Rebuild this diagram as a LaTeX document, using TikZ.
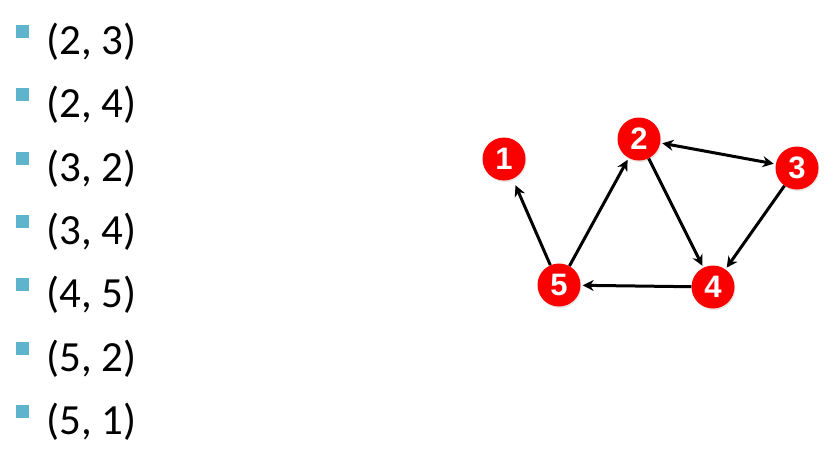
\documentclass[tikz,border=0pt]{standalone}
\usepackage{fontspec}
\setmainfont{Carlito}
\newfontfamily\vertexfont{Liberation Sans}
\usetikzlibrary{arrows.meta}
\usetikzlibrary{shadows}
\definecolor{bulletblue}{RGB}{94,180,204}
\definecolor{vertexred}{RGB}{250,0,0}

\begin{document}
\begin{tikzpicture}[x=1pt,y=-1pt]
      \tikzset{vertex/.style={circle,fill=vertexred,minimum size=43pt,inner sep=0pt,text=white,
          font=\vertexfont\bfseries\fontsize{31}{31}\selectfont,
          drop shadow={opacity=0.2,shadow xshift=1pt,shadow yshift=-1.5pt}}}
      \tikzset{edge/.style={line width=3pt,-{Stealth[length=11pt,width=11pt]},shorten >=2pt}}
      \tikzset{pairtext/.style={anchor=base west,inner sep=0pt,font=\fontsize{43}{43}\selectfont}}
      \def\rowsep{63.3}
      \useasboundingbox (0,0) rectangle (834,451);

% edge list
\foreach \pair [count=\i from 0] in {{(2, 3)},{(2, 4)},{(3, 2)},{(3, 4)},{(4, 5)},{(5, 2)},{(5, 1)}}
   {
   \fill[bulletblue] (16,{25+\i*\rowsep}) rectangle ++(13,13);
   \node[pairtext] (pair\i) at (46,{54.5+\i*\rowsep}) {\pair};
   }

% graph
\node[vertex] (v1) at (504,159) {1};
\node[vertex] (v2) at (639,139) {2};
\node[vertex] (v3) at (797,168) {3};
\node[vertex] (v4) at (713,287) {4};
\node[vertex] (v5) at (559,285) {5};

\draw[edge,shorten >=7pt] (v5) -- (v1);
\draw[edge] (v5) -- (v2);
\draw[edge] (v2) -- (v4);
\draw[edge] (v3) -- (v4);
\draw[edge] (v4) -- (v5);
\draw[edge,{Stealth[length=11pt,width=11pt]}-{Stealth[length=11pt,width=11pt]},shorten <=2pt] (v2) -- (v3);
    \end{tikzpicture}
\end{document}
